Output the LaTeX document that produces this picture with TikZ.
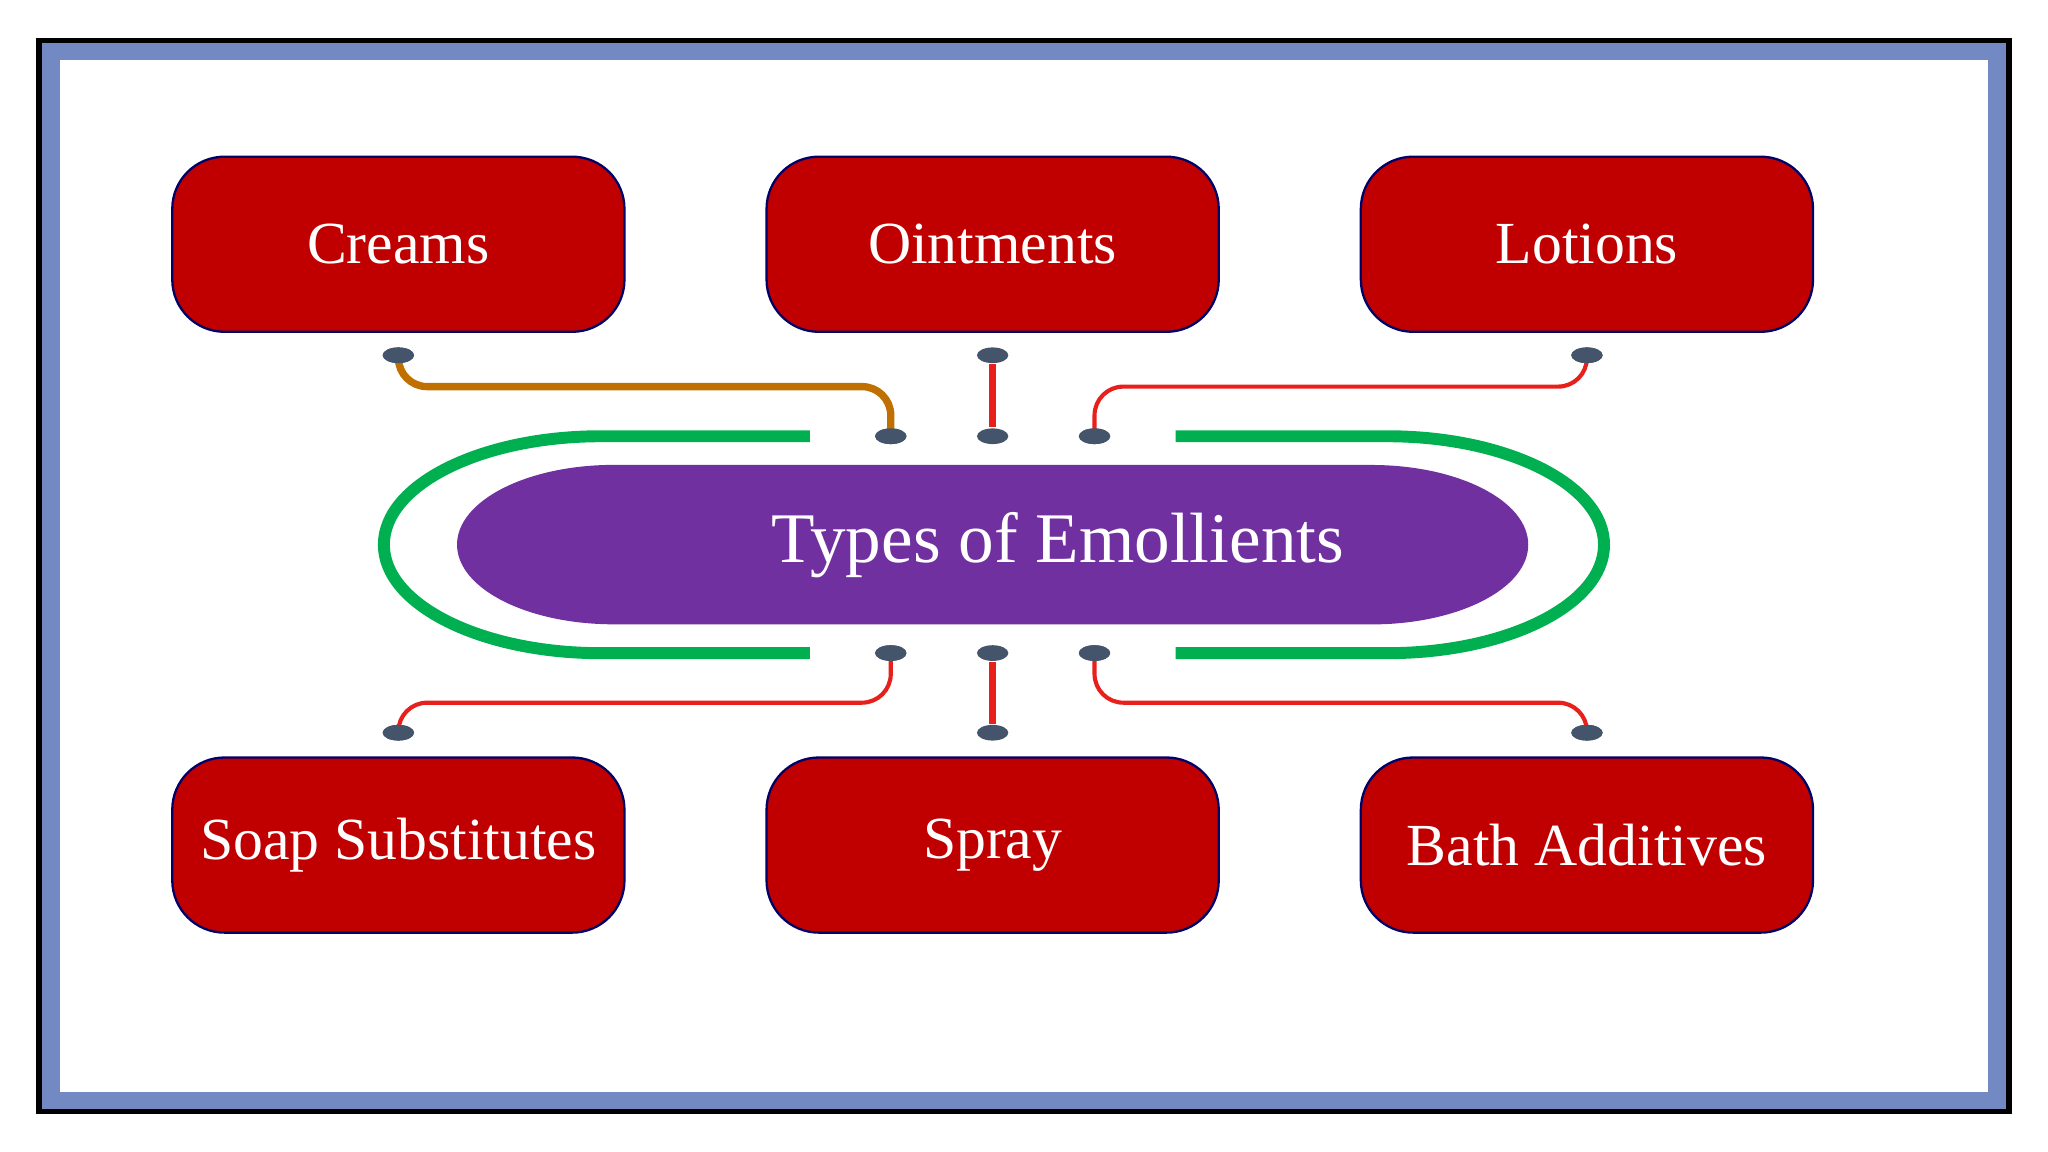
\documentclass[tikz,border=0pt]{standalone}
\usepackage{fontspec}
\setmainfont{Liberation Serif}
\begin{document}
\begin{tikzpicture}[x=0.01cm,y=0.01cm,
 box/.style={draw=black!60!blue,line width=0.5pt,fill=boxred,rounded corners=0.4cm,minimum width=3.46cm,minimum height=1.34cm,text=white,font=\fontsize{13}{15}\selectfont},
 dot/.style={ellipse,fill=dotc,minimum width=0.24cm,minimum height=0.12cm,inner sep=0pt},
 thin/.style={draw=linered,line width=0.9pt,rounded corners=0.22cm},
]
\usetikzlibrary{shapes.geometric}
\definecolor{boxred}{HTML}{C00000}
\definecolor{dotc}{HTML}{44546A}
\definecolor{linered}{HTML}{E8201C}
\definecolor{grn}{HTML}{00B050}
\definecolor{purp}{HTML}{7030A0}
\definecolor{frame}{HTML}{7289C4}
\definecolor{orng}{HTML}{C07000}
\useasboundingbox (0,0) rectangle (1568,-882);
\fill[white] (0,0) rectangle (1568,-882);
\draw[black,line width=1.2pt,fill=frame] (30,-31) rectangle (1538,-851);
\fill[white] (46,-46) rectangle (1522,-836);
% boxes
\node[box] (cr) at (305,-187) {Creams};
\node[box] (oi) at (760,-187) {Ointments};
\node[box] (lo) at (1215,-187) {Lotions};
\node[box] (so) at (305,-647) {Soap Substitutes};
\node[box] (sp) at (760,-647) {Spray};
\node[box] (ba) at (1215,-647) {Bath Additives};
% center
\fill[purp] (470,-356) -- (1050,-356) arc[start angle=90,end angle=-90,x radius=1.2cm,y radius=0.61cm] -- (470,-478) arc[start angle=270,end angle=90,x radius=1.2cm,y radius=0.61cm] -- cycle;
\node[text=white,font=\fontsize{15.5}{18}\selectfont] (ct) at (810,-417) {Types of Emollients};
% green ring
\draw[grn,line width=2.6pt] (620,-334) -- (460,-334) arc[start angle=90,end angle=270,x radius=1.66cm,y radius=0.83cm] -- (620,-500);
\draw[grn,line width=2.6pt] (900,-334) -- (1062,-334) arc[start angle=90,end angle=-90,x radius=1.66cm,y radius=0.83cm] -- (900,-500);
% dots
\node[dot] (t1) at (305,-272) {};
\node[dot] (t2) at (760,-272) {};
\node[dot] (t3) at (1215,-272) {};
\node[dot] (u1) at (682,-334) {};
\node[dot] (u2) at (760,-334) {};
\node[dot] (u3) at (838,-334) {};
\node[dot] (l1) at (682,-500) {};
\node[dot] (l2) at (760,-500) {};
\node[dot] (l3) at (838,-500) {};
\node[dot] (b1) at (305,-561) {};
\node[dot] (b2) at (760,-561) {};
\node[dot] (b3) at (1215,-561) {};
% connectors
\draw[draw=orng,line width=1.6pt,rounded corners=0.22cm] (t1.center) |- (682,-296) -- (u1.center);
\draw[thin] (t3.center) |- (838,-296) -- (u3.center);
\draw[linered,line width=1.6pt] (t2) -- (u2);
\draw[thin] (l1.center) |- (305,-538) -- (b1.center);
\draw[thin] (l3.center) |- (1215,-538) -- (b3.center);
\draw[linered,line width=1.6pt] (l2) -- (b2);
\foreach \n in {t1,t3,u1,u3,l1,l3,b1,b3} \node[dot] at (\n) {};
\end{tikzpicture}
\end{document}
